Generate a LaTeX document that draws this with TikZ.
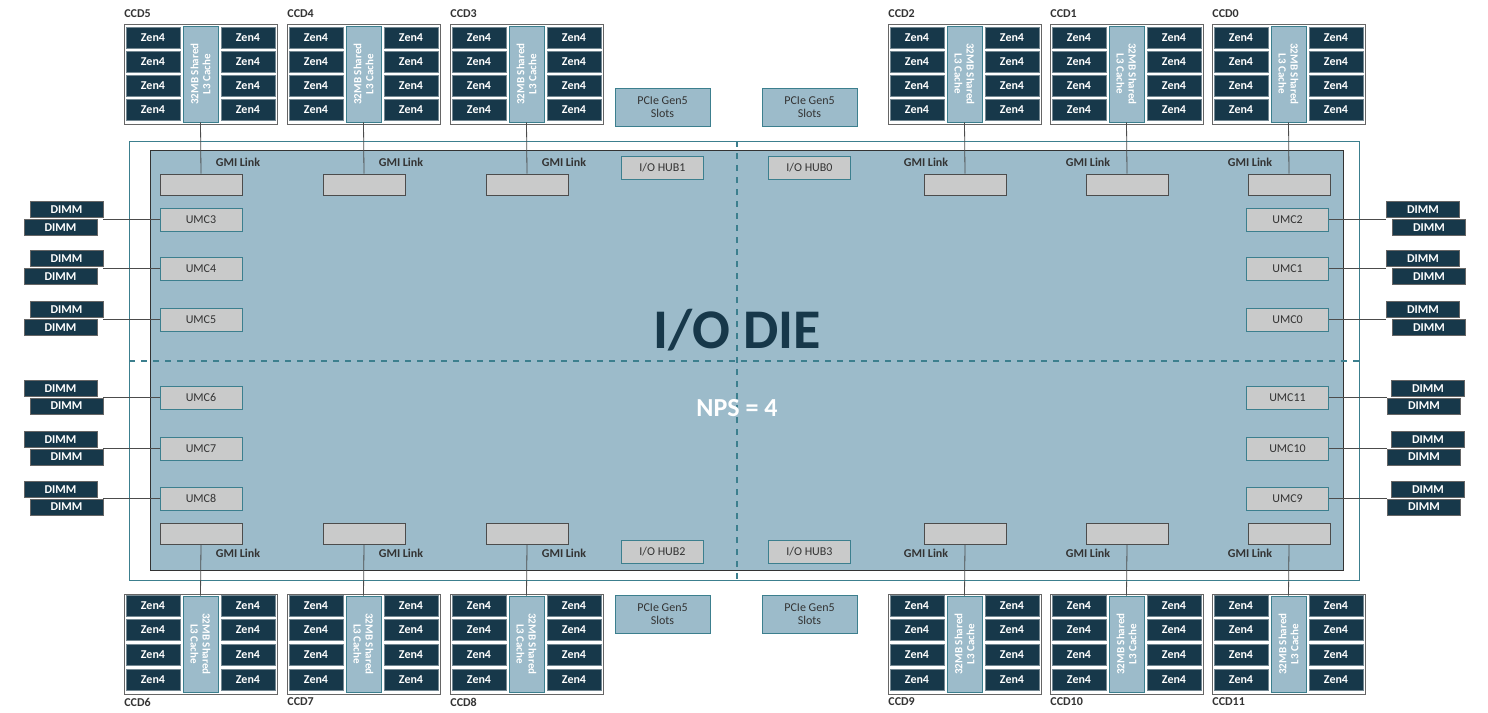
\documentclass[tikz,border=0pt]{standalone}
\usepackage{fontspec}
\setmainfont{Carlito}
\usetikzlibrary{positioning}
\definecolor{navy}{HTML}{17384A}
\definecolor{diefill}{HTML}{9CBBCA}
\definecolor{teal}{HTML}{3C7F8E}
\definecolor{boxgrey}{HTML}{C9CACA}
\begin{document}
\begin{tikzpicture}[x=0.5pt,y=-0.5pt,
  core/.style={rectangle, fill=navy, draw=navy!60, minimum width=27pt, minimum height=10.5pt, inner sep=0pt, text=white, font=\fontsize{6}{7}\selectfont\bfseries},
  cache/.style={rectangle, fill=diefill, draw=teal, minimum width=48pt, minimum height=17.5pt, inner sep=0pt, align=center, text=white, font=\fontsize{5.5}{6}\selectfont\bfseries},
  frame/.style={draw=black!60, thin},
  gmi/.style={rectangle, fill=boxgrey, draw=black!70, minimum width=41pt, minimum height=10.5pt, inner sep=0pt},
  umc/.style={rectangle, fill=boxgrey, draw=teal, minimum width=41pt, minimum height=11.5pt, inner sep=0pt, font=\fontsize{6}{7}\selectfont, text=black!80},
  dimm/.style={rectangle, fill=navy, draw=black!60, minimum width=36.5pt, minimum height=8pt, inner sep=0pt, text=white, font=\fontsize{6}{7}\selectfont\bfseries},
  pcie/.style={rectangle, fill=diefill, draw=teal, minimum width=47.5pt, minimum height=19pt, inner sep=0pt, align=center, font=\fontsize{6}{6.5}\selectfont, text=black!80},
  lbl/.style={font=\fontsize{6}{7}\selectfont\bfseries, text=black!80, inner sep=0pt},
  link/.style={draw=black!70, thin}]
\useasboundingbox (0,0) rectangle (1488,712);
% die
\draw[teal, thin] (129,141) rectangle (1359,580);
\draw[black!80, fill=diefill] (150,150) rectangle (1343,570);
\draw[teal, very thick, dashed] (737,141) -- (737,580);
\draw[teal, very thick, dashed] (129,361) -- (1359,361);
\node[text=navy, font=\fontsize{28}{30}\selectfont\bfseries] (die) at (737,330) {I/O DIE};
\node[text=white, font=\fontsize{13}{14}\selectfont\bfseries] (nps) at (737,408) {NPS = 4};
% top CCDs
\foreach \n/\x/\r/\a/\g in {5/124/90/west/114,4/287/90/west/114,3/450/90/west/114,2/888/-90/east/38,1/1050/-90/east/38,0/1212/-90/east/38}{
  \draw[frame] (\x,24) rectangle (\x+153,124);
  \foreach \i/\y in {1/37.5,2/61.5,3/85.5,4/109.5}{
    \node[core] (ccd\n-l\i) at (\x+29,\y) {Zen4};
    \node[core] (ccd\n-r\i) at (\x+124,\y) {Zen4};
  }
  \node[cache, rotate=\r] (ccd\n-cache) at (\x+76.5,74) {32MB Shared\\L3 Cache};
  \node[lbl, anchor=west] (ccd\n-name) at (\x,14) {CCD\n};
  \node[gmi] (gmi\n) at (\x+77,184.5) {};
  \node[lbl] (gmi\n-name) at (\x+\g,162) {GMI Link};
  \draw[link] (ccd\n-cache.\a) -- (gmi\n.north);
}
% bottom CCDs
\foreach \n/\x/\r/\a/\g in {6/124/-90/west/114,7/287/-90/west/114,8/450/-90/west/114,9/888/90/east/38,10/1050/90/east/38,11/1212/90/east/38}{
  \draw[frame] (\x,594) rectangle (\x+153,694);
  \foreach \i/\y in {1/606,2/630,3/655,4/680}{
    \node[core] (ccd\n-l\i) at (\x+29,\y) {Zen4};
    \node[core] (ccd\n-r\i) at (\x+124,\y) {Zen4};
  }
  \node[cache, rotate=\r] (ccd\n-cache) at (\x+76.5,644) {32MB Shared\\L3 Cache};
  \node[lbl, anchor=west] (ccd\n-name) at (\x,702) {CCD\n};
  \node[gmi] (gmi\n) at (\x+77,533.5) {};
  \node[lbl] (gmi\n-name) at (\x+\g,553) {GMI Link};
  \draw[link] (gmi\n.south) -- (ccd\n-cache.\a);
}
% I/O hubs and PCIe slots
\foreach \h/\x/\y/\py in {1/662.5/167.5/107,0/809.5/167.5/107,2/662.5/551.5/614,3/809.5/551.5/614}{
  \node[umc] (hub\h) at (\x,\y) {I/O HUB\h};
  \node[pcie] (pcie\h) at (\x,\py) {PCIe Gen5\\Slots};
}
% memory controllers, upper half
\foreach \u/\y in {3/219.5,4/268.5,5/319.5}{
  \node[umc] (umc\u) at (201,\y) {UMC\u};
  \node[dimm] (dimm\u a) at (66.5,\y-10) {DIMM};
  \node[dimm] (dimm\u b) at (60.5,\y+8) {DIMM};
  \draw[link] (umc\u.west) -- (umc\u.west -| dimm\u a.east);
}
\foreach \u/\y in {2/219.5,1/268.5,0/319.5}{
  \node[umc] (umc\u) at (1287.5,\y) {UMC\u};
  \node[dimm] (dimm\u a) at (1423,\y-10) {DIMM};
  \node[dimm] (dimm\u b) at (1429,\y+8) {DIMM};
  \draw[link] (umc\u.east) -- (umc\u.east -| dimm\u a.west);
}
% memory controllers, lower half
\foreach \u/\y in {6/397.5,7/448.5,8/498.5}{
  \node[umc] (umc\u) at (201,\y) {UMC\u};
  \node[dimm] (dimm\u b) at (66.5,\y+8.5) {DIMM};
  \node[dimm] (dimm\u a) at (60.5,\y-9) {DIMM};
  \draw[link] (umc\u.west) -- (umc\u.west -| dimm\u b.east);
}
\foreach \u/\y in {11/397.5,10/448.5,9/498.5}{
  \node[umc] (umc\u) at (1287.5,\y) {UMC\u};
  \node[dimm] (dimm\u b) at (1424,\y+8.5) {DIMM};
  \node[dimm] (dimm\u a) at (1428,\y-9) {DIMM};
  \draw[link] (umc\u.east) -- (umc\u.east -| dimm\u b.west);
}
\end{tikzpicture}
\end{document}
